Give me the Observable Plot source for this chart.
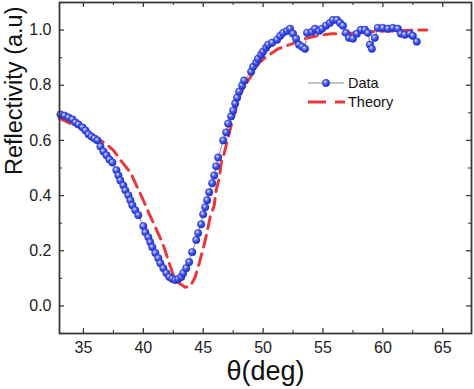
<!DOCTYPE html>
<html>
<head>
<meta charset="utf-8">
<script src="https://cdn.jsdelivr.net/npm/d3@7"></script>
<script src="https://cdn.jsdelivr.net/npm/@observablehq/plot@0.6"></script>
<style>
  html, body { margin: 0; padding: 0; background: #fff; }
  #chart svg { display: block; }
</style>
</head>
<body>
<div id="chart"></div>
<script>
// Measured data (θ in degrees, reflectivity in a.u.)
const dataTheta = [33.08,33.42,33.75,34.08,34.33,34.58,34.92,35.17,35.42,35.67,35.92,36.17,36.42,36.67,36.92,37.17,37.42,37.75,37.92,38.08,38.33,38.5,38.75,38.92,39.08,39.33,39.58,40.0,40.17,40.42,40.58,40.75,41.0,41.25,41.42,41.67,41.92,42.17,42.42,42.67,42.92,43.17,43.33,43.58,43.83,44.08,44.42,44.58,44.83,45.0,45.17,45.33,45.5,45.75,45.92,46.08,46.25,46.67,46.92,47.08,47.33,47.5,47.67,47.83,48.0,48.25,48.42,49.0,49.17,49.42,49.58,49.83,50.0,50.25,50.42,50.75,51.17,51.42,51.67,52.0,52.25,52.5,52.75,53.0,53.25,53.5,53.67,54.08,54.33,54.67,54.92,55.25,55.58,55.83,56.17,56.42,56.67,56.92,57.17,57.5,57.83,58.17,58.5,58.75,58.92,59.08,59.33,59.58,60.0,60.42,60.83,61.25,61.5,61.83,62.25,62.5,62.83];
const dataR = [0.694,0.690,0.683,0.676,0.665,0.658,0.647,0.636,0.622,0.614,0.607,0.600,0.578,0.560,0.546,0.531,0.520,0.492,0.473,0.455,0.437,0.419,0.401,0.383,0.365,0.347,0.329,0.289,0.267,0.249,0.231,0.213,0.192,0.173,0.155,0.137,0.119,0.105,0.098,0.094,0.098,0.105,0.119,0.137,0.159,0.195,0.239,0.264,0.296,0.332,0.358,0.383,0.412,0.445,0.473,0.506,0.538,0.600,0.629,0.661,0.687,0.708,0.734,0.755,0.777,0.799,0.817,0.849,0.867,0.882,0.896,0.911,0.922,0.936,0.947,0.954,0.965,0.979,0.990,0.997,1.005,0.987,0.969,0.947,0.940,0.932,0.990,0.994,1.005,0.997,1.005,1.016,1.026,1.037,1.037,1.026,1.016,0.990,0.972,0.969,0.987,1.001,1.001,0.990,0.947,0.932,0.972,1.008,1.008,1.005,1.008,1.005,0.987,0.983,0.987,0.979,0.958];

// Theoretical curve
const theoryTheta = [33.0,34.0,35.0,35.5,36.83,37.5,38.25,38.92,39.5,40.0,40.42,41.0,41.42,41.75,42.08,42.5,43.0,43.5,43.83,44.1,44.33,44.67,45.08,45.33,45.58,45.92,46.08,46.33,46.5,46.75,47.25,47.75,48.1,48.5,48.92,49.58,50.17,51.25,52.42,53.5,54.5,55.75,56.67,58.08,59.08,60.17,61.25,62.5,63.67];
const theoryR = [0.68,0.66,0.64,0.625,0.589,0.564,0.520,0.484,0.430,0.383,0.340,0.286,0.246,0.21,0.165,0.112,0.082,0.068,0.070,0.085,0.105,0.155,0.222,0.268,0.322,0.365,0.419,0.462,0.517,0.553,0.64,0.72,0.77,0.799,0.828,0.878,0.900,0.932,0.950,0.969,0.979,0.987,0.987,0.990,0.994,0.997,0.997,1.0,1.0];

const xTicks = [35,40,45,50,55,60,65];
const xMinorTicks = [37.5,42.5,47.5,52.5,57.5,62.5];
const yTicks = [0.0,0.2,0.4,0.6,0.8,1.0];
const yMinorTicks = [-0.1,0.1,0.3,0.5,0.7,0.9,1.1];

const seriesNames = ["Data","Theory"];
const xLabel = "θ(deg)";
const yLabel = "Reflectivity (a.u)";

const data = dataTheta.map((t,i) => ({theta: t, r: dataR[i]}));
const theory = theoryTheta.map((t,i) => ({theta: t, r: theoryR[i]}));

const W = 474, H = 389;
const mT = 2, mR = 3, mB = 56, mL = 59;
const pw = W - mL - mR, ph = H - mT - mB;
const major = 5, minor = 3;
const frameColor = "#3a3a3a";
const blue = "url(#ball)";
const red = "#e8383d";
const font = "'Liberation Sans', Arial, sans-serif";

const chart = Plot.plot({
  width: W, height: H,
  marginTop: mT, marginRight: mR, marginBottom: mB, marginLeft: mL,
  style: {fontFamily: font, fontSize: "16px", color: "#222", background: "#fff"},
  x: {domain: [33, 67.4]},
  y: {domain: [-0.1, 1.1]},
  marks: [
    Plot.axisX({ticks: xTicks, tickSize: 0, tickPadding: 8, tickFormat: d => String(d), label: null, fontSize: 16}),
    Plot.axisY({ticks: yTicks, tickSize: 0, tickPadding: 8, tickFormat: d3.format(".1f"), label: null, fontSize: 16}),
    // inward ticks (bottom / top)
    Plot.tickX(xTicks, {x: d => d, insetTop: ph - major, stroke: frameColor, strokeWidth: 1.3}),
    Plot.tickX(xTicks, {x: d => d, insetBottom: ph - major, stroke: frameColor, strokeWidth: 1.3}),
    Plot.tickX(xMinorTicks, {x: d => d, insetTop: ph - minor, stroke: frameColor, strokeWidth: 1.1}),
    Plot.tickX(xMinorTicks, {x: d => d, insetBottom: ph - minor, stroke: frameColor, strokeWidth: 1.1}),
    // inward ticks (left / right)
    Plot.tickY(yTicks, {y: d => d, insetRight: pw - major, stroke: frameColor, strokeWidth: 1.3}),
    Plot.tickY(yTicks, {y: d => d, insetLeft: pw - major, stroke: frameColor, strokeWidth: 1.3}),
    Plot.tickY(yMinorTicks, {y: d => d, insetRight: pw - minor, stroke: frameColor, strokeWidth: 1.1}),
    Plot.tickY(yMinorTicks, {y: d => d, insetLeft: pw - minor, stroke: frameColor, strokeWidth: 1.1}),
    // theory beneath, then data
    Plot.line(theory, {x: "theta", y: "r", stroke: red, strokeWidth: 3, strokeDasharray: "12,7"}),
    Plot.line(data, {x: "theta", y: "r", stroke: "#8a8a8a", strokeWidth: 1}),
    Plot.dot(data, {x: "theta", y: "r", r: 3.7, fill: blue, stroke: "#1f2fc8", strokeWidth: 0.6}),
    Plot.frame({stroke: frameColor, strokeWidth: 1.8}),
    // axis titles
    Plot.text([xLabel], {frameAnchor: "bottom", dy: 38, lineAnchor: "middle", fontSize: 27, fill: "#111"}),
    Plot.text([yLabel], {frameAnchor: "left", dx: -45, dy: 7, rotate: -90, lineAnchor: "middle", fontSize: 23.5, fill: "#111"})
  ]
});

// gradient for ball-like markers
const svg = d3.select(chart);
const defs = svg.insert("defs", ":first-child");
const g = defs.append("radialGradient").attr("id", "ball").attr("cx", "38%").attr("cy", "35%").attr("r", "65%");
g.append("stop").attr("offset", "0%").attr("stop-color", "#dfe4ff");
g.append("stop").attr("offset", "45%").attr("stop-color", "#4a5cf2");
g.append("stop").attr("offset", "100%").attr("stop-color", "#1f2fc8");

// legend
const leg = svg.append("g").attr("font-family", font).attr("font-size", 14.5).attr("fill", "#111").attr("text-anchor", "start");
leg.append("line").attr("x1", 308).attr("x2", 344).attr("y1", 83).attr("y2", 83).attr("stroke", "#8a8a8a").attr("stroke-width", 1);
leg.append("circle").attr("cx", 326).attr("cy", 83).attr("r", 3.7).attr("fill", blue).attr("stroke", "#1f2fc8").attr("stroke-width", 0.6);
leg.append("text").attr("x", 348).attr("y", 83).attr("dy", "0.35em").attr("text-anchor", "start").text(seriesNames[0]);
leg.append("line").attr("x1", 308).attr("x2", 345).attr("y1", 102).attr("y2", 102).attr("stroke", red).attr("stroke-width", 3).attr("stroke-dasharray", "18,9");
leg.append("text").attr("x", 348).attr("y", 102).attr("dy", "0.35em").attr("text-anchor", "start").text(seriesNames[1]);

document.getElementById("chart").append(chart);
</script>
</body>
</html>
